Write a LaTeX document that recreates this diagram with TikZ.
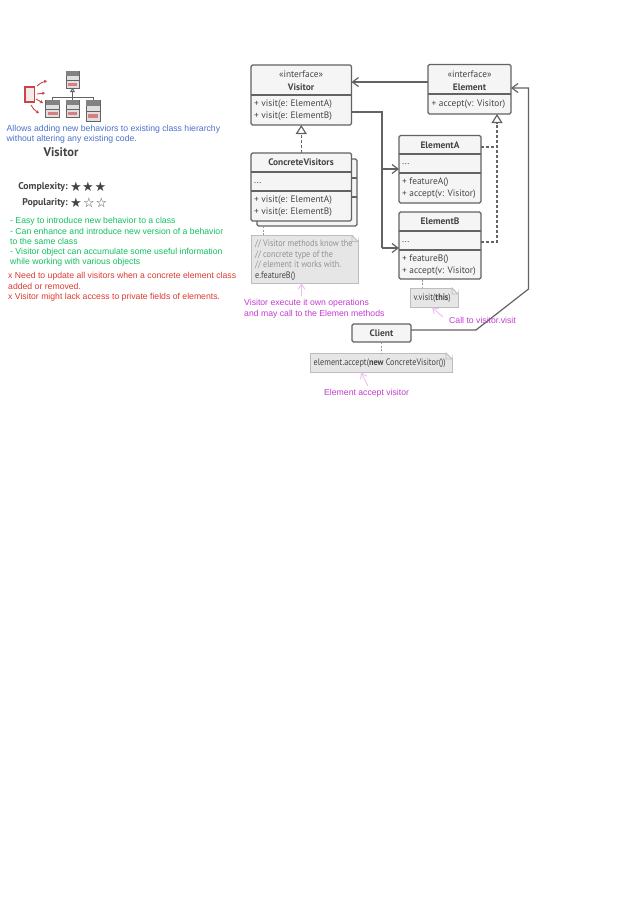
\documentclass[tikz,border=0pt]{standalone}
\usepackage{fontspec}
\setmainfont{PT Sans}
\newfontfamily\labelfont{Liberation Sans}
\newfontfamily\starfont{DejaVu Sans}
\newfontfamily\notefont[FakeStretch=0.88]{PT Sans}
\usepackage{tikz}
\usetikzlibrary{arrows.meta}
\definecolor{linegray}{HTML}{636363}
\definecolor{textgray}{HTML}{444444}
\definecolor{boxfill}{HTML}{F5F5F5}
\definecolor{notefill}{HTML}{E6E6E6}
\definecolor{noteline}{HTML}{BDBDBD}
\definecolor{commentgray}{HTML}{929292}
\definecolor{bluetext}{HTML}{4A72CC}
\definecolor{greentext}{HTML}{12C060}
\definecolor{redtext}{HTML}{DC3A32}
\definecolor{pinktext}{HTML}{C23CD0}
\definecolor{pinkline}{HTML}{EFBDEF}
\definecolor{iconred}{HTML}{C8464A}
\tikzstyle{umlbox} = [rectangle, rounded corners=1.5pt, anchor=north west, inner sep=0pt, outer sep=0pt, draw=linegray, line width=1.2pt, fill=boxfill]
\tikzstyle{divider} = [draw=linegray, line width=1.2pt]
\tikzstyle{rowtext} = [anchor=west, inner sep=0pt, text=textgray, font=\fontsize{9.35}{11}\selectfont]
\tikzstyle{titletext} = [inner sep=0pt, text=textgray, font=\fontsize{9.4}{11}\selectfont\bfseries]
\tikzstyle{stereotext} = [inner sep=0pt, text=textgray, font=\fontsize{9.35}{11}\selectfont]
\tikzstyle{note} = [rectangle, anchor=north west, inner sep=0pt, outer sep=0pt, draw=noteline, line width=.8pt, fill=notefill]
\tikzstyle{notetext} = [anchor=west, inner sep=0pt, text=textgray, font=\notefont\fontsize{9.3}{10.6}\selectfont]
\tikzstyle{assoc} = [draw=linegray, line width=1.2pt, -{Straight Barb[length=6pt,width=9pt]}]
\tikzstyle{plainline} = [draw=linegray, line width=1.2pt]
\tikzstyle{realize} = [draw=linegray, line width=1.2pt, dash pattern=on 3pt off 2pt, -{Triangle[open,fill=white,length=9pt,width=11pt]}]
\tikzstyle{realizeline} = [draw=linegray, line width=1.2pt, dash pattern=on 3pt off 2pt]
\tikzstyle{notelink} = [draw=gray!80, line width=1pt, dash pattern=on 2pt off 1.5pt]
\tikzstyle{pinkarrow} = [draw=pinkline, line width=.9pt, -{Straight Barb[length=5pt,width=7pt]}]
\tikzstyle{sidetext} = [anchor=west, inner sep=0pt, font=\labelfont\fontsize{8.67}{11}\selectfont]
\tikzstyle{ratetext} = [anchor=east, inner sep=0pt, text=textgray, font=\fontsize{9.8}{12}\selectfont\bfseries]
\tikzstyle{ratestar} = [inner sep=0pt, text=textgray, font=\starfont\fontsize{13}{14}\selectfont]
\tikzstyle{iconarrow} = [draw=iconred, line width=.9pt, -{Stealth[length=3pt,width=3.5pt]}]
\newcommand{\notefold}[1]{
\fill[white] ([xshift=-6pt]#1.north east) -- ([xshift=1pt,yshift=1pt]#1.north east) -- ([yshift=-6pt]#1.north east) -- cycle;
\draw[draw=noteline, line width=.8pt] ([xshift=-6pt]#1.north east) -- ([yshift=-6pt]#1.north east) -- ([xshift=-6pt,yshift=-6pt]#1.north east) -- cycle;
}
\newcommand{\serverbox}[4]{
\fill[gray!25] (#1,#2) rectangle (#1+#3,#2+#4);
\draw[linegray, line width=.8pt] (#1,#2) rectangle (#1+#3,#2+#4);
\fill[linegray!80] (#1,#2) rectangle (#1+#3,#2+.28*#4);
\draw[linegray, line width=.7pt] (#1,#2+.55*#4) -- (#1+#3,#2+.55*#4);
\fill[iconred!70] (#1+2,#2+.68*#4) rectangle (#1+#3-2,#2+.88*#4);
}
\begin{document}
\begin{tikzpicture}[x=1pt,y=-1pt]
\useasboundingbox (0,0) rectangle (638,903);
\fill[white] (0,0) rectangle (638,903);

% icon
\draw[iconred, line width=1.1pt, fill=iconred!12] (25,87) rectangle (34.5,102);
\serverbox{66}{71}{13}{17}
\serverbox{45.5}{100}{14}{17}
\serverbox{66}{100}{13}{17}
\serverbox{86}{100}{14}{21}
\draw[linegray, line width=.9pt] (52,100) -- (52,97) -- (93,97) -- (93,100);
\draw[linegray, line width=.9pt, -{Triangle[open,fill=white,length=4pt,width=5pt]}] (72.5,100) -- (72.5,88);
\draw[iconarrow] (37,86) to[bend left=15] (47,81);
\draw[iconarrow] (37,94) -- (45,93);
\draw[iconarrow] (36,99) -- (43,103);
\draw[iconarrow] (31,105) to[bend right=15] (39,113);

% left column
\node (introa) [sidetext, text=bluetext] at (6.5,129.3) {Allows adding new behaviors to existing class hierarchy};
\node (introb) [sidetext, text=bluetext] at (6.5,139.3) {without altering any existing code.};
\node (heading) [inner sep=0pt, text=textgray, font=\fontsize{12.5}{14}\selectfont\bfseries] at (61,152.5) {Visitor};
\node (complexity) [ratetext] at (68,187.3) {Complexity:};
\node (popularity) [ratetext] at (68,203.3) {Popularity:};
\foreach \x in {76,88,100.5} {
\node [ratestar] at (\x,186.5) {★};
}
\node [ratestar] at (76,202.5) {★};
\node [ratestar] at (89,202.5) {☆};
\node [ratestar] at (101.5,202.5) {☆};
\node (proa) [sidetext, text=greentext] at (10,221.3) {- Easy to introduce new behavior to a class};
\node (prob) [sidetext, text=greentext] at (10,231.3) {- Can enhance and introduce new version of a behavior};
\node (proc) [sidetext, text=greentext] at (10,241.8) {to the same class};
\node (prod) [sidetext, text=greentext] at (10,252.3) {- Visitor object can accumulate some useful information};
\node (proe) [sidetext, text=greentext] at (10,262.3) {while working with various objects};
\node (cona) [sidetext, text=redtext] at (8,276.3) {x Need to update all visitors when a concrete element class};
\node (conb) [sidetext, text=redtext] at (8,286.3) {added or removed.};
\node (conc) [sidetext, text=redtext] at (8,296.8) {x Visitor might lack access to private fields of elements.};

% classes
\node (visitor) [umlbox, minimum width=100.5pt, minimum height=60pt] at (251,65) {};
\draw[divider] (visitor.west |- 0,95) -- (visitor.east |- 0,95);
\node (visitorst) [stereotext] at (301,74) {«interface»};
\node (visitortt) [titletext] at (301,87) {Visitor};
\node (visitorra) [rowtext] at (254,104.5) {+ visit(e: ElementA)};
\node (visitorrb) [rowtext] at (254,116.5) {+ visit(e: ElementB)};

\node (concreteback) [umlbox, minimum width=100pt, minimum height=67pt] at (257,159) {};
\draw[divider] (351,178) -- (concreteback.east |- 0,178);
\draw[divider] (351,197) -- (concreteback.east |- 0,197);
\node (concrete) [umlbox, minimum width=100.5pt, minimum height=68pt] at (251,153) {};
\draw[divider] (concrete.west |- 0,172) -- (concrete.east |- 0,172);
\draw[divider] (concrete.west |- 0,191) -- (concrete.east |- 0,191);
\node (concretett) [titletext] at (301,162.5) {ConcreteVisitors};
\node (concretedots) [rowtext] at (254,183) {...};
\node (concretera) [rowtext] at (254,200.5) {+ visit(e: ElementA)};
\node (concreterb) [rowtext] at (254,212.5) {+ visit(e: ElementB)};

\node (element) [umlbox, minimum width=83pt, minimum height=49.5pt] at (428,64.5) {};
\draw[divider] (element.west |- 0,94) -- (element.east |- 0,94);
\node (elementst) [stereotext] at (469.5,74) {«interface»};
\node (elementtt) [titletext] at (469.5,87) {Element};
\node (elementr) [rowtext] at (431.5,104.5) {+ accept(v: Visitor)};

\node (elementa) [umlbox, minimum width=82pt, minimum height=67.5pt] at (399,135.5) {};
\draw[divider] (elementa.west |- 0,154) -- (elementa.east |- 0,154);
\draw[divider] (elementa.west |- 0,173) -- (elementa.east |- 0,173);
\node (elementatt) [titletext] at (440,145) {ElementA};
\node (elementadots) [rowtext] at (402,164.5) {...};
\node (elementara) [rowtext] at (402,182) {+ featureA()};
\node (elementarb) [rowtext] at (402,194.5) {+ accept(v: Visitor)};

\node (elementb) [umlbox, minimum width=82pt, minimum height=67pt] at (399,212) {};
\draw[divider] (elementb.west |- 0,231) -- (elementb.east |- 0,231);
\draw[divider] (elementb.west |- 0,250) -- (elementb.east |- 0,250);
\node (elementbtt) [titletext] at (440,221.5) {ElementB};
\node (elementbdots) [rowtext] at (402,242) {...};
\node (elementbra) [rowtext] at (402,259) {+ featureB()};
\node (elementbrb) [rowtext] at (402,271) {+ accept(v: Visitor)};

\node (client) [umlbox, minimum width=59pt, minimum height=18pt, font=\fontsize{9.4}{11}\selectfont\bfseries, text=textgray] at (352,324) {Client};

% notes
\node (visitornote) [note, minimum width=107pt, minimum height=48pt] at (251,235.5) {};
\notefold{visitornote}
\node (notea) [notetext, text=commentgray] at (255,244) {// Visitor methods know the};
\node (noteb) [notetext, text=commentgray] at (255,254.7) {// concrete type of the};
\node (notec) [notetext, text=commentgray] at (255,265.3) {// element it works with.};
\node (noted) [notetext] at (255,276) {e.featureB()};

\node (visitnote) [note, minimum width=48pt, minimum height=19pt] at (410,288) {};
\notefold{visitnote}
\node (visitcode) [notetext] at (413.5,298) {v.visit(\textbf{this})};

\node (acceptnote) [note, minimum width=142pt, minimum height=19pt] at (310,353) {};
\notefold{acceptnote}
\node (acceptcode) [notetext] at (313.5,363) {element.accept(\textbf{new} ConcreteVisitor())};

% connectors
\coordinate (splitv) at (382,112);
\coordinate (joine) at (497,242);
\coordinate (clientbend) at (476,330);
\coordinate (clientrise) at (528.5,289);
\coordinate (clienttop) at (528.5,88);
\coordinate (concreteend) at (263,226);
\coordinate (elementbend) at (422,279.5);
\coordinate (clientnote) at (381,342);
\draw[assoc] (element.west |- 0,82) -- (visitor.east |- 0,82);
\draw[plainline] (visitor.east |- splitv) -- (splitv) -- (splitv |- 0,248);
\draw[assoc] (splitv |- 0,169) -- (elementa.west |- 0,169);
\draw[assoc] (splitv |- 0,248) -- (elementb.west |- 0,248);
\draw[realize] (concrete.north) -- (visitor.south);
\draw[realize] (elementb.east |- joine) -- (joine) -- (joine |- element.south);
\draw[realizeline] (elementa.east |- 0,147) -- (joine |- 0,147);
\draw[assoc] (client.east |- clientbend) -- (clientbend) -- (clientrise) -- (clienttop) -- (element.east |- clienttop);
\draw[notelink] (concreteend) -- (concreteend |- visitornote.north);
\draw[notelink] (elementbend) -- (elementbend |- visitnote.north);
\draw[notelink] (clientnote) -- (clientnote |- acceptnote.north);

% labels
\node (visitorlabela) [sidetext, text=pinktext] at (244,303.3) {Visitor execute it own operations};
\node (visitorlabelb) [sidetext, text=pinktext] at (244,313.8) {and may call to the Elemen methods};
\node (calllabel) [sidetext, text=pinktext] at (449,320.8) {Call to visitor.visit};
\node (acceptlabel) [sidetext, text=pinktext] at (324,392.8) {Element accept visitor};
\coordinate (visitorpink) at (301.5,296);
\coordinate (callpink) at (443,317);
\coordinate (callpinktip) at (432,307.5);
\coordinate (acceptpink) at (368,386);
\coordinate (acceptpinktip) at (361,372.5);
\draw[pinkarrow] (visitorpink) -- (visitorpink |- visitornote.south);
\draw[pinkarrow] (callpink) -- (callpinktip);
\draw[pinkarrow] (acceptpink) -- (acceptpinktip);
\end{tikzpicture}
\end{document}
